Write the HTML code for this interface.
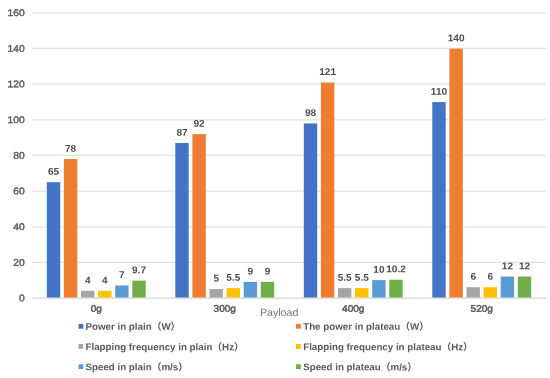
<!DOCTYPE html>
<html><head><meta charset="utf-8"><title>Payload chart</title>
<style>
html,body{margin:0;padding:0;background:#fff;}
body{width:550px;height:378px;overflow:hidden;}
svg{display:block;}
text{font-family:"Liberation Sans","Noto Sans CJK SC",sans-serif;font-size:9.4px;text-rendering:geometricPrecision;}
.ax{fill:#595959;stroke:#595959;stroke-width:0.4px;font-size:9.6px;}
.dl{font-weight:bold;fill:#4d4d4d;font-size:9.8px;}
.cat{fill:#595959;stroke:#595959;stroke-width:0.5px;font-size:9.6px;}
.lg{font-weight:bold;fill:#595959;font-size:9.6px;}
.ttl{font-size:10.6px;fill:#757575;}
</style></head><body>
<svg width="550" height="378" viewBox="0 0 550 378">
<rect width="550" height="378" fill="#fff"/>
<line x1="32.0" x2="546.0" y1="298.10" y2="298.10" stroke="#d6d6d6" stroke-width="1.25"/>
<text class="ax" transform="translate(24.70 301.30) scale(1.07 1) rotate(0.05)" text-anchor="end">0</text>
<line x1="32.0" x2="546.0" y1="262.44" y2="262.44" stroke="#e1e1e1" stroke-width="1.25"/>
<text class="ax" transform="translate(24.70 265.64) scale(1.07 1) rotate(0.05)" text-anchor="end">20</text>
<line x1="32.0" x2="546.0" y1="226.78" y2="226.78" stroke="#e1e1e1" stroke-width="1.25"/>
<text class="ax" transform="translate(24.70 229.98) scale(1.07 1) rotate(0.05)" text-anchor="end">40</text>
<line x1="32.0" x2="546.0" y1="191.12" y2="191.12" stroke="#e1e1e1" stroke-width="1.25"/>
<text class="ax" transform="translate(24.70 194.32) scale(1.07 1) rotate(0.05)" text-anchor="end">60</text>
<line x1="32.0" x2="546.0" y1="155.46" y2="155.46" stroke="#e1e1e1" stroke-width="1.25"/>
<text class="ax" transform="translate(24.70 158.66) scale(1.07 1) rotate(0.05)" text-anchor="end">80</text>
<line x1="32.0" x2="546.0" y1="119.80" y2="119.80" stroke="#e1e1e1" stroke-width="1.25"/>
<text class="ax" transform="translate(24.70 123.00) scale(1.07 1) rotate(0.05)" text-anchor="end">100</text>
<line x1="32.0" x2="546.0" y1="84.14" y2="84.14" stroke="#e1e1e1" stroke-width="1.25"/>
<text class="ax" transform="translate(24.70 87.34) scale(1.07 1) rotate(0.05)" text-anchor="end">120</text>
<line x1="32.0" x2="546.0" y1="48.48" y2="48.48" stroke="#e1e1e1" stroke-width="1.25"/>
<text class="ax" transform="translate(24.70 51.68) scale(1.07 1) rotate(0.05)" text-anchor="end">140</text>
<line x1="32.0" x2="546.0" y1="12.82" y2="12.82" stroke="#e1e1e1" stroke-width="1.25"/>
<text class="ax" transform="translate(24.70 16.02) scale(1.07 1) rotate(0.05)" text-anchor="end">160</text>
<rect x="46.80" y="182.20" width="13.4" height="115.30" fill="#4472C4"/>
<text class="dl" transform="translate(53.50 174.80) scale(1.03 1) rotate(0.05)" text-anchor="middle">65</text>
<rect x="63.90" y="159.06" width="13.4" height="138.44" fill="#ED7D31"/>
<text class="dl" transform="translate(70.60 151.66) scale(1.03 1) rotate(0.05)" text-anchor="middle">78</text>
<rect x="81.00" y="290.78" width="13.4" height="6.72" fill="#A5A5A5"/>
<text class="dl" transform="translate(87.70 283.38) scale(1.03 1) rotate(0.05)" text-anchor="middle">4</text>
<rect x="98.10" y="290.78" width="13.4" height="6.72" fill="#FFC000"/>
<text class="dl" transform="translate(104.80 283.38) scale(1.03 1) rotate(0.05)" text-anchor="middle">4</text>
<rect x="115.20" y="285.44" width="13.4" height="12.06" fill="#5B9BD5"/>
<text class="dl" transform="translate(121.90 278.04) scale(1.03 1) rotate(0.05)" text-anchor="middle">7</text>
<rect x="132.30" y="280.63" width="13.4" height="16.87" fill="#70AD47"/>
<text class="dl" transform="translate(139.00 273.23) scale(1.03 1) rotate(0.05)" text-anchor="middle">9.7</text>
<text class="cat" transform="translate(96.25 311.70) scale(1.05 1) rotate(0.05)" text-anchor="middle">0g</text>
<rect x="175.30" y="143.04" width="13.4" height="154.46" fill="#4472C4"/>
<text class="dl" transform="translate(182.00 135.64) scale(1.03 1) rotate(0.05)" text-anchor="middle">87</text>
<rect x="192.40" y="134.14" width="13.4" height="163.36" fill="#ED7D31"/>
<text class="dl" transform="translate(199.10 126.74) scale(1.03 1) rotate(0.05)" text-anchor="middle">92</text>
<rect x="209.50" y="289.00" width="13.4" height="8.50" fill="#A5A5A5"/>
<text class="dl" transform="translate(216.20 281.60) scale(1.03 1) rotate(0.05)" text-anchor="middle">5</text>
<rect x="226.60" y="288.11" width="13.4" height="9.39" fill="#FFC000"/>
<text class="dl" transform="translate(233.30 280.71) scale(1.03 1) rotate(0.05)" text-anchor="middle">5.5</text>
<rect x="243.70" y="281.88" width="13.4" height="15.62" fill="#5B9BD5"/>
<text class="dl" transform="translate(250.40 274.48) scale(1.03 1) rotate(0.05)" text-anchor="middle">9</text>
<rect x="260.80" y="281.88" width="13.4" height="15.62" fill="#70AD47"/>
<text class="dl" transform="translate(267.50 274.48) scale(1.03 1) rotate(0.05)" text-anchor="middle">9</text>
<text class="cat" transform="translate(224.75 311.70) scale(1.05 1) rotate(0.05)" text-anchor="middle">300g</text>
<rect x="303.80" y="123.46" width="13.4" height="174.04" fill="#4472C4"/>
<text class="dl" transform="translate(310.50 116.06) scale(1.03 1) rotate(0.05)" text-anchor="middle">98</text>
<rect x="320.90" y="82.52" width="13.4" height="214.98" fill="#ED7D31"/>
<text class="dl" transform="translate(327.60 75.12) scale(1.03 1) rotate(0.05)" text-anchor="middle">121</text>
<rect x="338.00" y="288.11" width="13.4" height="9.39" fill="#A5A5A5"/>
<text class="dl" transform="translate(344.70 280.71) scale(1.03 1) rotate(0.05)" text-anchor="middle">5.5</text>
<rect x="355.10" y="288.11" width="13.4" height="9.39" fill="#FFC000"/>
<text class="dl" transform="translate(361.80 280.71) scale(1.03 1) rotate(0.05)" text-anchor="middle">5.5</text>
<rect x="372.20" y="280.10" width="13.4" height="17.40" fill="#5B9BD5"/>
<text class="dl" transform="translate(378.90 272.70) scale(1.03 1) rotate(0.05)" text-anchor="middle">10</text>
<rect x="389.30" y="279.74" width="13.4" height="17.76" fill="#70AD47"/>
<text class="dl" transform="translate(396.00 272.34) scale(1.03 1) rotate(0.05)" text-anchor="middle">10.2</text>
<text class="cat" transform="translate(353.25 311.70) scale(1.05 1) rotate(0.05)" text-anchor="middle">400g</text>
<rect x="432.30" y="102.10" width="13.4" height="195.40" fill="#4472C4"/>
<text class="dl" transform="translate(439.00 94.70) scale(1.03 1) rotate(0.05)" text-anchor="middle">110</text>
<rect x="449.40" y="48.70" width="13.4" height="248.80" fill="#ED7D31"/>
<text class="dl" transform="translate(456.10 41.30) scale(1.03 1) rotate(0.05)" text-anchor="middle">140</text>
<rect x="466.50" y="287.22" width="13.4" height="10.28" fill="#A5A5A5"/>
<text class="dl" transform="translate(473.20 279.82) scale(1.03 1) rotate(0.05)" text-anchor="middle">6</text>
<rect x="483.60" y="287.22" width="13.4" height="10.28" fill="#FFC000"/>
<text class="dl" transform="translate(490.30 279.82) scale(1.03 1) rotate(0.05)" text-anchor="middle">6</text>
<rect x="500.70" y="276.54" width="13.4" height="20.96" fill="#5B9BD5"/>
<text class="dl" transform="translate(507.40 269.14) scale(1.03 1) rotate(0.05)" text-anchor="middle">12</text>
<rect x="517.80" y="276.54" width="13.4" height="20.96" fill="#70AD47"/>
<text class="dl" transform="translate(524.50 269.14) scale(1.03 1) rotate(0.05)" text-anchor="middle">12</text>
<text class="cat" transform="translate(481.75 311.70) scale(1.05 1) rotate(0.05)" text-anchor="middle">520g</text>
<text class="ttl" transform="translate(260.00 316.00) scale(1.0 1) rotate(0.05)">Payload</text>
<rect x="78.5" y="323.90" width="4.8" height="4.8" fill="#4472C4"/>
<text class="lg" transform="translate(85.50 329.70) scale(1.017 1) rotate(0.05)">Power in plain（W）</text>
<rect x="78.5" y="344.05" width="4.8" height="4.8" fill="#A5A5A5"/>
<text class="lg" transform="translate(85.50 350.10) scale(1.017 1) rotate(0.05)">Flapping frequency in plain（Hz）</text>
<rect x="78.5" y="364.30" width="4.8" height="4.8" fill="#5B9BD5"/>
<text class="lg" transform="translate(85.50 370.30) scale(1.017 1) rotate(0.05)">Speed in plain（m/s）</text>
<rect x="296" y="323.90" width="4.8" height="4.8" fill="#ED7D31"/>
<text class="lg" transform="translate(303.20 329.70) scale(1.017 1) rotate(0.05)">The power in plateau（W）</text>
<rect x="296" y="344.05" width="4.8" height="4.8" fill="#FFC000"/>
<text class="lg" transform="translate(303.20 350.10) scale(1.017 1) rotate(0.05)">Flapping frequency in plateau（Hz）</text>
<rect x="296" y="364.30" width="4.8" height="4.8" fill="#70AD47"/>
<text class="lg" transform="translate(303.20 370.30) scale(1.017 1) rotate(0.05)">Speed in plateau（m/s）</text>
</svg>
</body></html>
